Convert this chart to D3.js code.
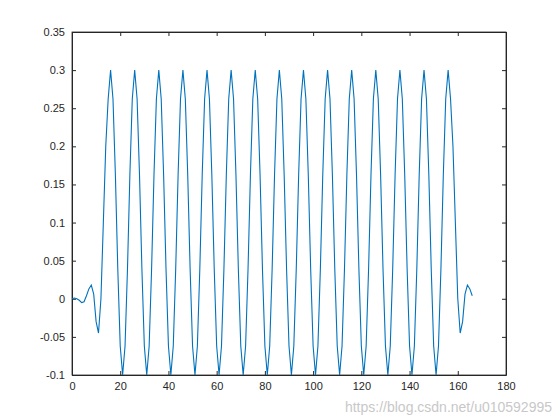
<!DOCTYPE html>
<html>
<head>
<meta charset="UTF-8" />
<script src="https://d3js.org/d3.v7.min.js"></script>
<style>
  body { margin: 0; background: #fff; }
  text { font-family: "Liberation Sans", Arial, sans-serif; }
</style>
</head>
<body>
<svg width="560" height="420" id="chart"></svg>
<script>
  // sampled signal, index 0..166
  const values = [
    0, 0.001, 0, -0.002, -0.005, -0.004, 0.004, 0.013, 0.018, 0.006,
    -0.03, -0.045, 0.0, 0.1, 0.2, 0.262,
    0.3, 0.262, 0.162, 0.038, -0.062, -0.1, -0.062, 0.038, 0.162, 0.262,
    0.3, 0.262, 0.162, 0.038, -0.062, -0.1, -0.062, 0.038, 0.162, 0.262,
    0.3, 0.262, 0.162, 0.038, -0.062, -0.1, -0.062, 0.038, 0.162, 0.262,
    0.3, 0.262, 0.162, 0.038, -0.062, -0.1, -0.062, 0.038, 0.162, 0.262,
    0.3, 0.262, 0.162, 0.038, -0.062, -0.1, -0.062, 0.038, 0.162, 0.262,
    0.3, 0.262, 0.162, 0.038, -0.062, -0.1, -0.062, 0.038, 0.162, 0.262,
    0.3, 0.262, 0.162, 0.038, -0.062, -0.1, -0.062, 0.038, 0.162, 0.262,
    0.3, 0.262, 0.162, 0.038, -0.062, -0.1, -0.062, 0.038, 0.162, 0.262,
    0.3, 0.262, 0.162, 0.038, -0.062, -0.1, -0.062, 0.038, 0.162, 0.262,
    0.3, 0.262, 0.162, 0.038, -0.062, -0.1, -0.062, 0.038, 0.162, 0.262,
    0.3, 0.262, 0.162, 0.038, -0.062, -0.1, -0.062, 0.038, 0.162, 0.262,
    0.3, 0.262, 0.162, 0.038, -0.062, -0.1, -0.062, 0.038, 0.162, 0.262,
    0.3, 0.262, 0.162, 0.038, -0.062, -0.1, -0.062, 0.038, 0.162, 0.262,
    0.3, 0.262, 0.162, 0.038, -0.062, -0.1, -0.062, 0.038, 0.162, 0.262,
    0.3, 0.262, 0.2, 0.1, 0.0, -0.045, -0.03, 0.006, 0.018, 0.013, 0.004
  ];
  const xTicks = [0, 20, 40, 60, 80, 100, 120, 140, 160, 180];
  const yTicks = [-0.1, -0.05, 0, 0.05, 0.1, 0.15, 0.2, 0.25, 0.3, 0.35];

  const svg = d3.select("#chart");
  const mLeft = 72, mRight = 506, mTop = 32, mBottom = 375;

  const x = d3.scaleLinear().domain([0, 180]).range([mLeft, mRight]);
  const y = d3.scaleLinear().domain([-0.1, 0.35]).range([mBottom, mTop]);

  svg.append("rect")
    .attr("x", mLeft).attr("y", mTop)
    .attr("width", mRight - mLeft).attr("height", mBottom - mTop)
    .attr("fill", "#fff").attr("stroke", "#262626").attr("stroke-width", 0.8);

  svg.append("g")
    .attr("transform", `translate(0,${mBottom})`)
    .call(d3.axisBottom(x).tickValues(xTicks).tickSizeInner(-4).tickSizeOuter(0).tickPadding(7));
  svg.append("g")
    .attr("transform", `translate(${mLeft},0)`)
    .call(d3.axisLeft(y).tickValues(yTicks).tickFormat(d => String(+d.toFixed(2))).tickSizeInner(-4).tickSizeOuter(0).tickPadding(7));
  // ticks on top and right edges too
  svg.append("g").attr("transform", `translate(0,${mTop})`)
    .call(d3.axisTop(x).tickValues(xTicks).tickSizeInner(-4).tickSizeOuter(0).tickFormat(""));
  svg.append("g").attr("transform", `translate(${mRight},0)`)
    .call(d3.axisRight(y).tickValues(yTicks).tickSizeInner(-4).tickSizeOuter(0).tickFormat(""));

  svg.selectAll(".domain").attr("stroke", "#262626");
  svg.selectAll(".tick line").attr("stroke", "#262626");
  svg.selectAll(".tick text").attr("fill", "#262626").style("font-size", "11px")
    .style("font-family", "Liberation Sans, Arial, sans-serif");

  const line = d3.line().x((d, i) => x(i)).y(d => y(d));
  svg.append("path")
    .datum(values)
    .attr("d", line)
    .attr("fill", "none")
    .attr("stroke", "#0072BD")
    .attr("stroke-width", 1.1);

  svg.append("text")
    .attr("x", 552).attr("y", 412)
    .attr("text-anchor", "end")
    .attr("fill", "#c8c8c8")
    .style("font-size", "14px")
    .text("https://blog.csdn.net/u010592995");
</script>
</body>
</html>
